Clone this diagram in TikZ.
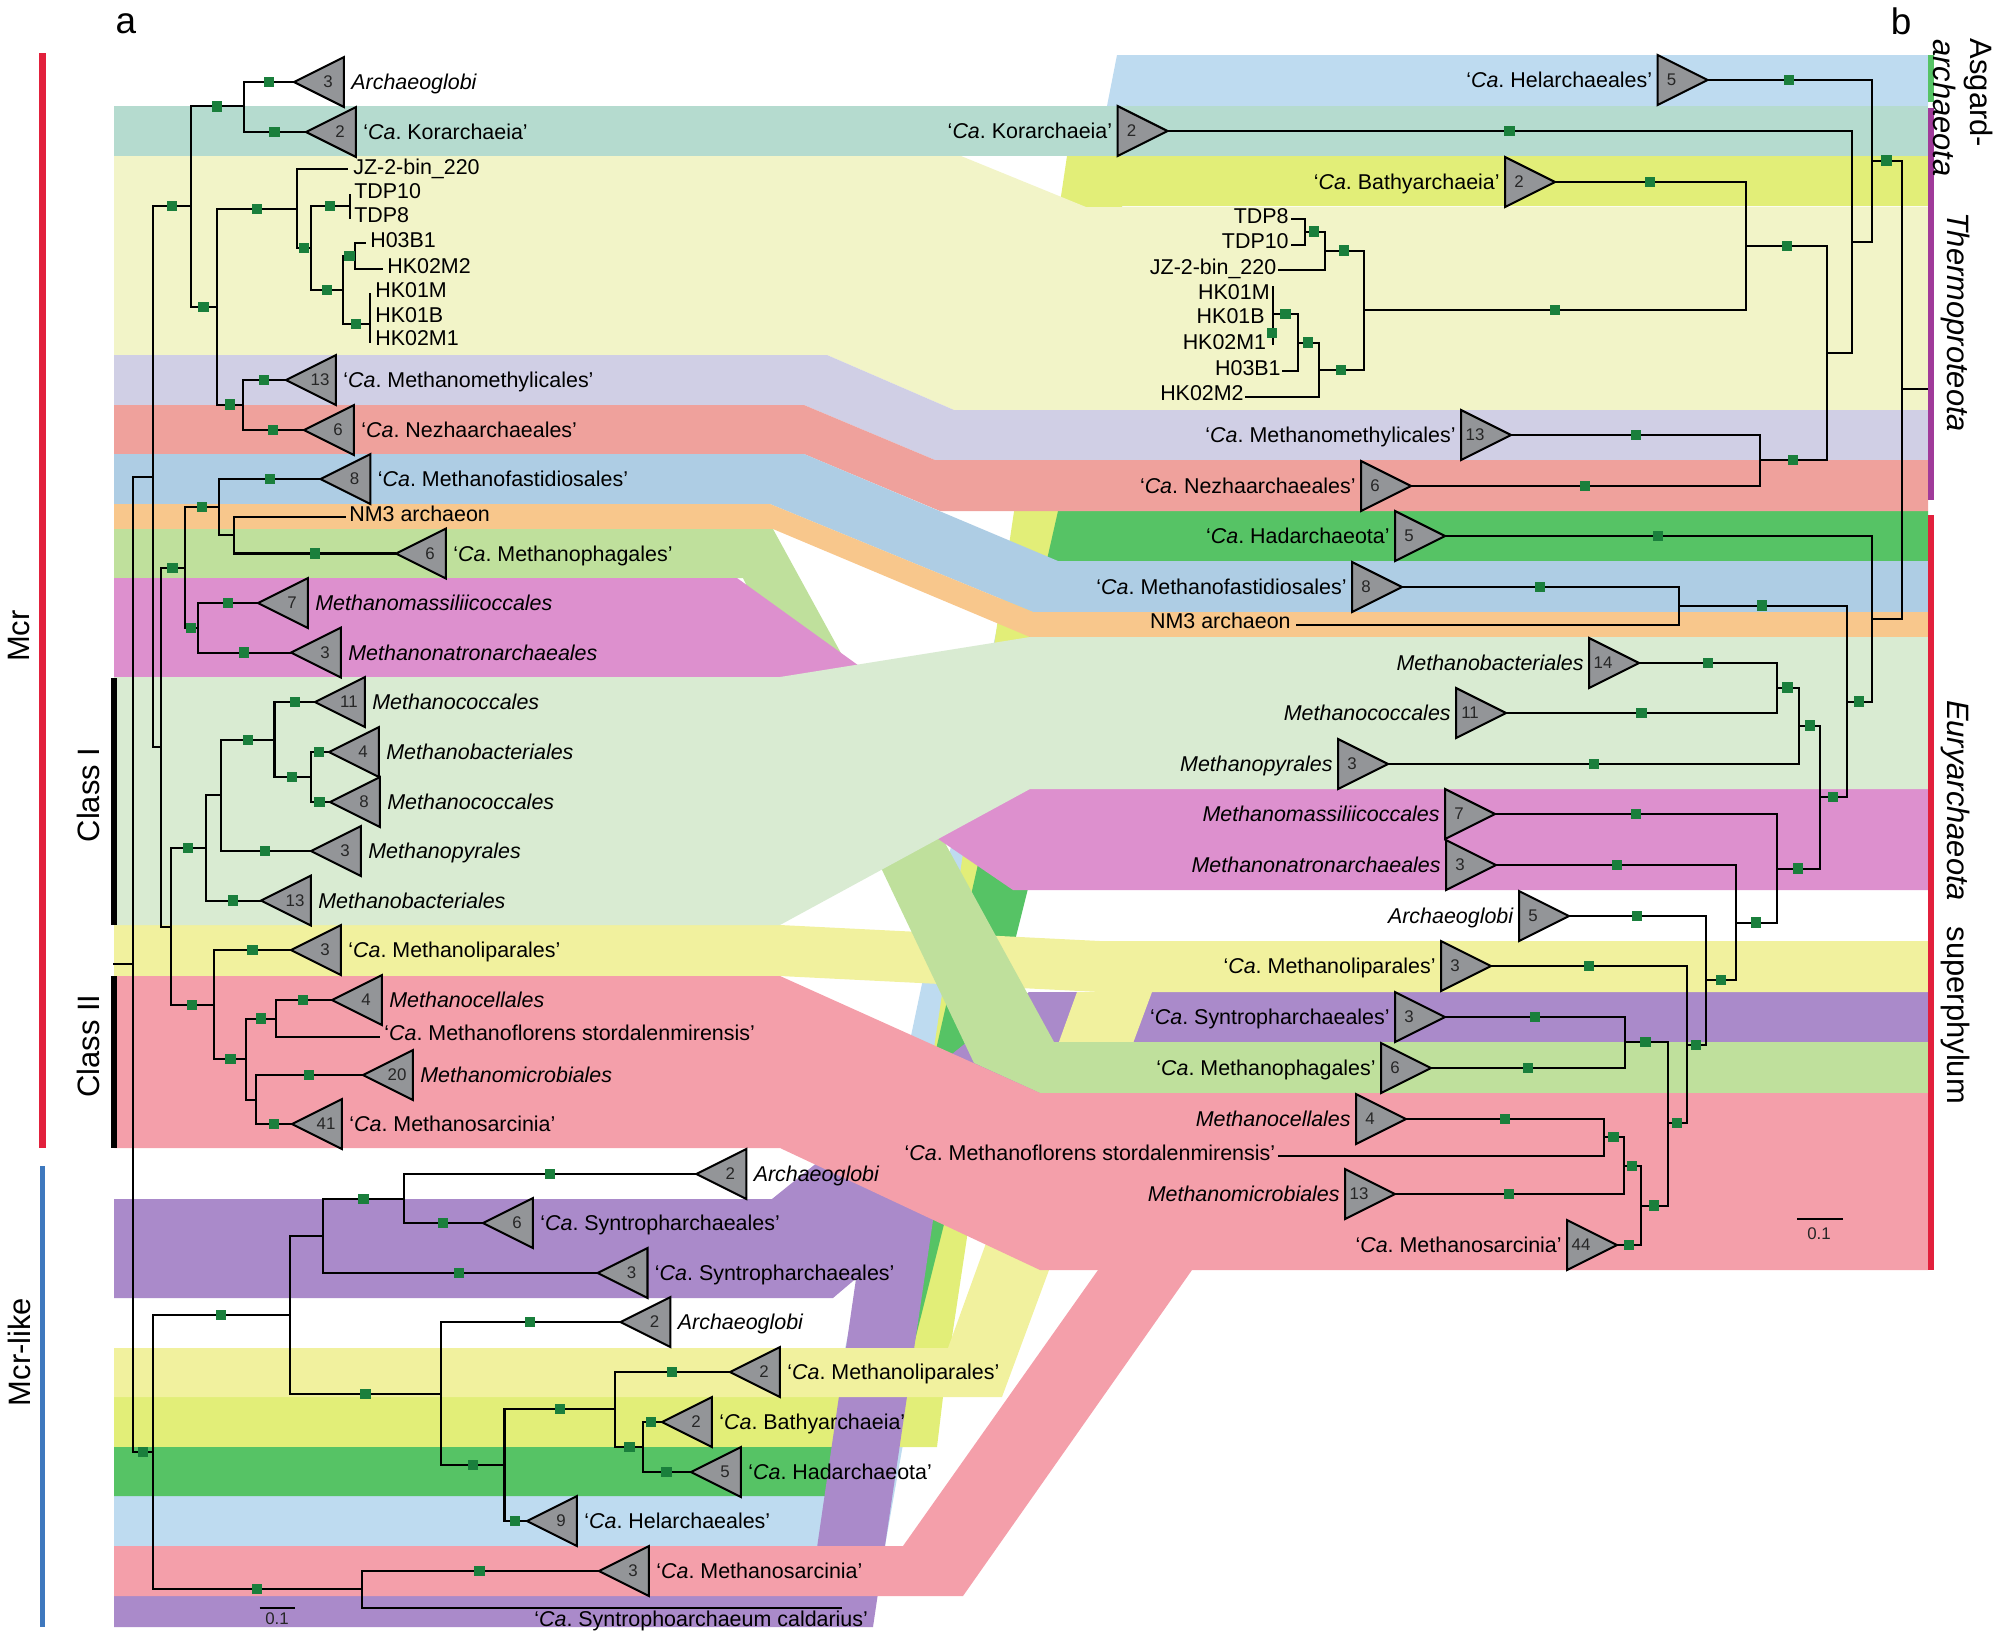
\documentclass[tikz,border=0pt]{standalone}
\usepackage{fontspec}
\setmainfont{Liberation Sans}
\usetikzlibrary{shapes.geometric}
\definecolor{cTeal}{HTML}{B5DBCF}
\definecolor{cPale}{HTML}{F2F4C8}
\definecolor{cLav}{HTML}{D0CFE5}
\definecolor{cSalmon}{HTML}{EFA19C}
\definecolor{cBlue}{HTML}{AECDE4}
\definecolor{cOrange}{HTML}{F8C78C}
\definecolor{cPhag}{HTML}{BFE09C}
\definecolor{cMag}{HTML}{DD90CE}
\definecolor{cMint}{HTML}{D9EBD2}
\definecolor{cYellow}{HTML}{F1F19E}
\definecolor{cPink}{HTML}{F49FAA}
\definecolor{cPurple}{HTML}{AA8ACA}
\definecolor{cLime}{HTML}{E2EE78}
\definecolor{cGreen}{HTML}{56C365}
\definecolor{cSky}{HTML}{BEDBF0}
\definecolor{cSquare}{HTML}{1A7F3C}
\definecolor{cTri}{HTML}{939598}
\definecolor{cRedBar}{HTML}{E2203C}
\definecolor{cBlueBar}{HTML}{3E78BE}
\definecolor{cPurpleBar}{HTML}{A03A9A}
\newcommand{\Ca}{‘\textit{Ca}.\ }
\tikzset{
    branch/.style={line width=1.15pt},
    sq/.style={rectangle,fill=cSquare,minimum size=6.2pt,inner sep=0pt,outer sep=0pt},
    tri/.style={isosceles triangle,isosceles triangle stretches,draw=black,fill=cTri,line width=1.15pt,
        minimum size=28.4pt,inner sep=0pt,outer sep=0pt,anchor=apex},
    triL/.style={tri,shape border rotate=180},
    triR/.style={tri,shape border rotate=0},
    cnt/.style={font=\fontsize{9.6}{11}\selectfont,inner sep=0pt,text=black!85},
    lab/.style={font=\fontsize{12.2}{14}\selectfont,inner sep=0pt},
    big/.style={font=\fontsize{17.6}{20}\selectfont,inner sep=0pt},
    panel/.style={font=\fontsize{21}{24}\selectfont,inner sep=0pt},
}
\begin{document}
\begin{tikzpicture}[x=0.02cm,y=-0.02cm]
    \useasboundingbox (0,0) rectangle (1995,1640);
    % ribbons, from the lowest one up
    \fill[cSky] (114,1496) -- (814,1496) -- (1107,106) -- (1117,55) -- (1928,55) -- (1928,106) -- (1140,106) -- (885,1546) -- (114,1546) -- cycle;
    \fill[cLime] (114,1397) -- (882,1397) -- (1067,156) -- (1928,156) -- (1928,206) -- (1122,206) -- (943,1397) -- (937,1447) -- (114,1447) -- cycle;
    \fill[cGreen] (114,1447) -- (846,1447) -- (1058,511) -- (1928,511) -- (1928,561) -- (1110,561) -- (876,1496) -- (114,1496) -- cycle;
    \fill[cPurple] (114,1199) -- (772,1199) -- (1029,992) -- (1928,992) -- (1928,1042) -- (1135,1042) -- (833,1298) -- (114,1298) -- cycle;
    \fill[cPurple] (114,1596) -- (810,1596) -- (858,1265) -- (936,1200) -- (873,1627) -- (114,1627) -- cycle;
    \fill[cYellow] (114,1348) -- (948,1348) -- (1077,992) -- (1152,992) -- (1002,1397) -- (114,1397) -- cycle;
    \fill[cTeal] (114,106) rectangle (1928,156);
    \fill[cPale] (114,156) -- (961,156) -- (1086,207) -- (1928,207) -- (1928,410) -- (954,410) -- (827,355) -- (114,355) -- cycle;
    \fill[cLav] (114,355) -- (827,355) -- (954,410) -- (1928,410) -- (1928,460) -- (935,460) -- (804,405) -- (114,405) -- cycle;
    \fill[cSalmon] (114,405) -- (804,405) -- (935,460) -- (1928,460) -- (1928,511) -- (940,511) -- (804,454) -- (114,454) -- cycle;
    \fill[cBlue] (114,454) -- (804,454) -- (1058,561) -- (1928,561) -- (1928,612) -- (1033,612) -- (770,504) -- (114,504) -- cycle;
    \fill[cOrange] (114,504) -- (770,504) -- (1033,612) -- (1928,612) -- (1928,637) -- (1030,637) -- (773,529) -- (114,529) -- cycle;
    \fill[cYellow] (114,925) -- (780,925) -- (1100,941) -- (1928,941) -- (1928,992) -- (1100,992) -- (780,976) -- (114,976) -- cycle;
    \fill[cPhag] (114,529) -- (773,529) -- (1054,1042) -- (1928,1042) -- (1928,1093) -- (1040,1093) -- (974,1063) -- (743,578) -- (114,578) -- cycle;
    \fill[cMag] (114,578) -- (737,578) -- (1030,789) -- (1928,789) -- (1928,890) -- (1013,890) -- (925,830) -- (780,677) -- (114,677) -- cycle;
    \fill[cMint] (114,677) -- (780,677) -- (1030,637) -- (1928,637) -- (1928,789) -- (1030,789) -- (780,925) -- (114,925) -- cycle;
    \fill[cPink] (114,976) -- (780,976) -- (1040,1093) -- (1928,1093) -- (1928,1270) -- (1040,1270) -- (780,1148) -- (114,1148) -- cycle;
    \fill[cPink] (114,1546) -- (903,1546) -- (1098,1270) -- (1192,1270) -- (963,1596) -- (114,1596) -- cycle;
    % side bars
    \fill[cRedBar] (39,53) rectangle (45.5,1148);
    \fill[cBlueBar] (39.5,1166) rectangle (45,1627);
    \fill[black] (111,678) rectangle (117,925);
    \fill[black] (111,976) rectangle (117,1148);
    \fill[cGreen] (1928,55) rectangle (1934,102);
    \fill[cPurpleBar] (1928,108) rectangle (1934,500);
    \fill[cRedBar] (1928,515) rectangle (1934,1270);
    % inner nodes of panel a: name/x/y of the stem
    \foreach \name/\x/\y in {r0/133/964,rs/113/964,n1/153/477,n2/191/206,n3/244/106.4,n4/217/307,n5/297/209,
        n6/311/248,n7/350/206,n8/343/290,n9/355/256,n10/370/324,n11/243/404.6,n12/160.7/747,n13/185/568,
        n14/219/507,n15/234/535,n16/198/628,n17/171/927,n18/206/848,n19/221/795,n20/274.5/740,n21/311/777,
        n22/214/1005,n23/246/1059,n24/276/1018.5,n25/255.6/1099.6,
        m1/153/1452,m2/290/1315,m3/322.7/1236,m4/404/1199,m5/440.7/1394,m6/504.5/1465,m7/615.4/1409,
        m8/643/1447,m9/361.6/1589}{
        \coordinate (\name) at (\x,\y);
    }
    % inner nodes of panel b
    \foreach \name/\x/\y in {q0/1901.7/389,qs/1928/389,q1/1872/160.7,q2/1851.5/241.7,q3/1827.4/352.7,q4/1745.6/246,
        q5/1759.5/460,q6/1363.6/310,q7/1325/250.7,q8/1318.5/370,q9/1305/231.7,q10/1298/342.7,q11/1273/314,
        q12/1872/618.7,q13/1846.5/701.7,q14/1679/605.7,q15/1820/797,q16/1799/725.7,q17/1777/868.7,
        q18/1777/687.7,q19/1736/922.7,q20/1705.6/980,q21/1687/1045,q22/1667.5/1123,q23/1625/1042,
        q24/1641/1205.7,q25/1624/1166,q26/1604/1137}{
        \coordinate (\name) at (\x,\y);
    }
    % collapsed clades of panel a: name/apex x/y/count/label
    \foreach \name/\x/\y/\n/\lab in {
        aArc/294/82/3/{\textit{Archaeoglobi}},
        aKor/306/132/2/{\Ca Korarchaeia’},
        aMth/286/380/13/{\Ca Methanomethylicales’},
        aNez/304/430/6/{\Ca Nezhaarchaeales’},
        aFas/320.5/479/8/{\Ca Methanofastidiosales’},
        aPha/396/553.5/6/{\Ca Methanophagales’},
        aMas/258/603/7/{\textit{Methanomassiliicoccales}},
        aNat/291/652.6/3/{\textit{Methanonatronarchaeales}},
        aCoa/315/702/11/{\textit{Methanococcales}},
        aBab/329/752/4/{\textit{Methanobacteriales}},
        aCob/330/802/8/{\textit{Methanococcales}},
        aPyr/311/851/3/{\textit{Methanopyrales}},
        aBaa/261/900.6/13/{\textit{Methanobacteriales}},
        aLip/291/950/3/{\Ca Methanoliparales’},
        aCel/332/1000/4/{\textit{Methanocellales}},
        aMic/363/1075/20/{\textit{Methanomicrobiales}},
        aSar/292/1124/41/{\Ca Methanosarcinia’},
        cArc/696.4/1174/2/{\textit{Archaeoglobi}},
        cSyn/483/1223/6/{\Ca Syntropharchaeales’},
        cSyb/597.6/1273/3/{\Ca Syntropharchaeales’},
        cArb/620.5/1322/2/{\textit{Archaeoglobi}},
        cLip/730/1372/2/{\Ca Methanoliparales’},
        cBat/662/1422/2/{\Ca Bathyarchaeia’},
        cHad/691/1472/5/{\Ca Hadarchaeota’},
        cHel/527/1521/9/{\Ca Helarchaeales’},
        cSar/599/1571/3/{\Ca Methanosarcinia’}}{
        \coordinate (\name) at (\x,\y);
        \node[triL] (T-\name) at (\name) {};
        \node[cnt] (C-\name) at (\x+34,\y) {\n};
        \node[lab,anchor=mid west] (L-\name) at (\x+57,\y+3) {\lab};
    }
    % collapsed clades of panel b
    \foreach \name/\x/\y/\n/\lab in {
        bHel/1707.5/80/5/{\Ca Helarchaeales’},
        bKor/1167.5/131/2/{\Ca Korarchaeia’},
        bBat/1555/182/2/{\Ca Bathyarchaeia’},
        bMth/1511/435/13/{\Ca Methanomethylicales’},
        bNez/1411/486/6/{\Ca Nezhaarchaeales’},
        bHad/1445/536/5/{\Ca Hadarchaeota’},
        bFas/1402/587/8/{\Ca Methanofastidiosales’},
        bBac/1639/663/14/{\textit{Methanobacteriales}},
        bCoc/1506/713/11/{\textit{Methanococcales}},
        bPyr/1388/764/3/{\textit{Methanopyrales}},
        bMas/1495/814/7/{\textit{Methanomassiliicoccales}},
        bNat/1496/865/3/{\textit{Methanonatronarchaeales}},
        bArc/1569/916/5/{\textit{Archaeoglobi}},
        bLip/1491/966/3/{\Ca Methanoliparales’},
        bSyn/1445/1017/3/{\Ca Syntropharchaeales’},
        bPha/1431/1068/6/{\Ca Methanophagales’},
        bCel/1406/1119/4/{\textit{Methanocellales}},
        bMic/1395/1194/13/{\textit{Methanomicrobiales}},
        bSar/1617/1245/44/{\Ca Methanosarcinia’}}{
        \coordinate (\name) at (\x,\y);
        \node[triR] (T-\name) at (\name) {};
        \node[cnt] (C-\name) at (\x-36,\y) {\n};
        \node[lab,anchor=mid east] (L-\name) at (\x-55,\y+3) {\lab};
    }
    % plain tips: name/x/y of line end/x/y of label/label
    \foreach \name/\x/\y/\lx/\ly/\lab in {
        aJz/348/169/353/168/{JZ-2-bin\_220},
        aTa/350/194/354/192/{TDP10},
        aTb/350/219/354/216/{TDP8},
        aHa/366/243/370/241/{H03B1},
        aHb/383/268.6/387/267/{HK02M2},
        aKa/370/293/375/291/{HK01M},
        aKb/370/316/375/316/{HK01B},
        aKc/370/343/375/339/{HK02M1},
        aNm/346/517/349/515/{NM3 archaeon},
        aFlo/380/1037/384/1034/{\Ca Methanoflorens stordalenmirensis’},
        cCal/842/1608/534/1620/{\Ca Syntrophoarchaeum caldarius’}}{
        \coordinate (\name) at (\x,\y);
        \node[lab,anchor=mid west] (L-\name) at (\lx,\ly+2) {\lab};
    }
    \foreach \name/\x/\y/\lx/\ly/\lab in {
        bTa/1291/219/1289/217/{TDP8},
        bTb/1291/245/1289/242/{TDP10},
        bJz/1278/269.7/1276.6/268/{JZ-2-bin\_220},
        bKa/1273/285.7/1270/293/{HK01M},
        bKb/1272/333/1265/317/{HK01B},
        bKc/1273/345/1266.5/343/{HK02M1},
        bH/1282/371/1281/369/{H03B1},
        bHb/1245/396.7/1244/394/{HK02M2},
        bNm/1296/625/1291/622/{NM3 archaeon},
        bFlo/1278/1156/1275.5/1154/{\Ca Methanoflorens stordalenmirensis’}}{
        \coordinate (\name) at (\x,\y);
        \node[lab,anchor=mid east] (L-\name) at (\lx,\ly+2) {\lab};
    }
    % branches without a support mark
    \foreach \a/\b in {r0/n1,n1/n12,n12/n17,n5/aJz,n7/aTa,n7/aTb,n9/aHa,n9/aHb,n10/aKa,n10/aKc,n14/n15,n15/aNm,
        n18/n19,n23/n25,n24/aFlo,m2/m3,m9/cCal,
        q1/q2,q2/q3,q7/bJz,q9/bTa,q9/bTb,q8/bHb,q10/bH,q11/bKa,q11/bKc,q0/q12,q14/bNm,q26/bFlo}{
        \draw[branch] (\a) |- (\b);
    }
    \draw[branch] (r0) -- (rs);
    \draw[branch] (q0) -- (qs);
    % branches with a mark: from/to/x of the mark
    \foreach \a/\b/\s in {r0/m1/143,n1/n2/172,n2/n3/217,n2/n4/203.6,n3/aArc/269,n3/aKor/274.5,n4/n5/257,n4/n11/230,
        n5/n6/304,n6/n7/330,n6/n8/327,n8/n9/349.6,n8/n10/356,n11/aMth/264,n11/aNez/273,n12/n13/172.5,
        n13/n14/202,n13/n16/191,n14/aFas/270,n15/aPha/315,n16/aMas/228,n16/aNat/244,n17/n18/188,n17/n22/192,
        n18/aBaa/233,n19/n20/248,n19/aPyr/265,n20/aCoa/295,n20/n21/292,n21/aBab/319,n21/aCob/319.4,
        n22/aLip/252.5,n22/n23/230.6,n23/n24/261,n24/aCel/303,n25/aMic/309,n25/aSar/274,
        m1/m2/221,m1/m9/257,m2/m5/365.4,m3/m4/363.5,m3/cSyb/459,m4/cArc/550,m4/cSyn/443,m5/cArb/530,m5/m6/473,
        m6/m7/560,m6/cHel/515,m7/cLip/672,m7/m8/629.5,m8/cBat/651,m8/cHad/666.5,m9/cSar/479.6,
        q0/q1/1886.4,q1/bHel/1789,q2/bKor/1509.5,q3/q4/1787,q3/q5/1793,q4/bBat/1650,q4/q6/1555,q5/bMth/1636,
        q5/bNez/1585,q6/q7/1344,q6/q8/1341,q7/q9/1314,q8/q10/1308,q10/q11/1285.5,q11/bKb/1272,
        q12/bHad/1658,q12/q13/1859,q13/q14/1762,q13/q15/1833,q14/bFas/1540,q15/q16/1810,q15/q17/1798,
        q16/q18/1787.4,q16/bPyr/1594,q18/bBac/1708,q18/bCoc/1641.5,q17/bMas/1636,q17/q19/1756,q19/bNat/1617,
        q19/q20/1721,q20/bArc/1637,q20/q21/1696,q21/bLip/1589,q21/q22/1677,q22/q23/1645.6,q22/q24/1654,
        q23/bSyn/1535,q23/bPha/1528,q24/q25/1632,q24/bSar/1629,q25/q26/1613.5,q25/bMic/1509,q26/bCel/1505}{
        \draw[branch] (\a) |- (\b);
        \node[sq] (S-\b) at (\s,0 |- \b) {};
    }
    % scale bars
    \coordinate (sa1) at (259.6,1608);
    \coordinate (sa2) at (294.6,1608);
    \coordinate (sb1) at (1797,1219);
    \coordinate (sb2) at (1843,1219);
    \draw[branch] (sa1) -- (sa2);
    \draw[branch] (sb1) -- (sb2);
    \node[cnt] (Sa) at (277,1619) {0.1};
    \node[cnt] (Sb) at (1819,1234) {0.1};
    % big lettering
    \node[panel] (pa) at (126,24) {a};
    \node[panel] (pb) at (1901,21) {b};
    \node[big,rotate=90] (mcr) at (19,636) {Mcr};
    \node[big,rotate=90] (cl1) at (88,795) {Class I};
    \node[big,rotate=90] (cl2) at (88,1046) {Class II};
    \node[big,rotate=90] (mcl) at (19,1352) {Mcr-like};
    \node[big,rotate=-90] (asg) at (1978,93) {Asgard-};
    \node[big,rotate=-90] (arc) at (1945,108) {\textit{archaeota}};
    \node[big,rotate=-90] (the) at (1955,322) {\textit{Thermoproteota}};
    \node[big,rotate=-90] (eur) at (1955,902) {\textit{Euryarchaeota}\ \ \ superphylum};
\end{tikzpicture}
\end{document}
